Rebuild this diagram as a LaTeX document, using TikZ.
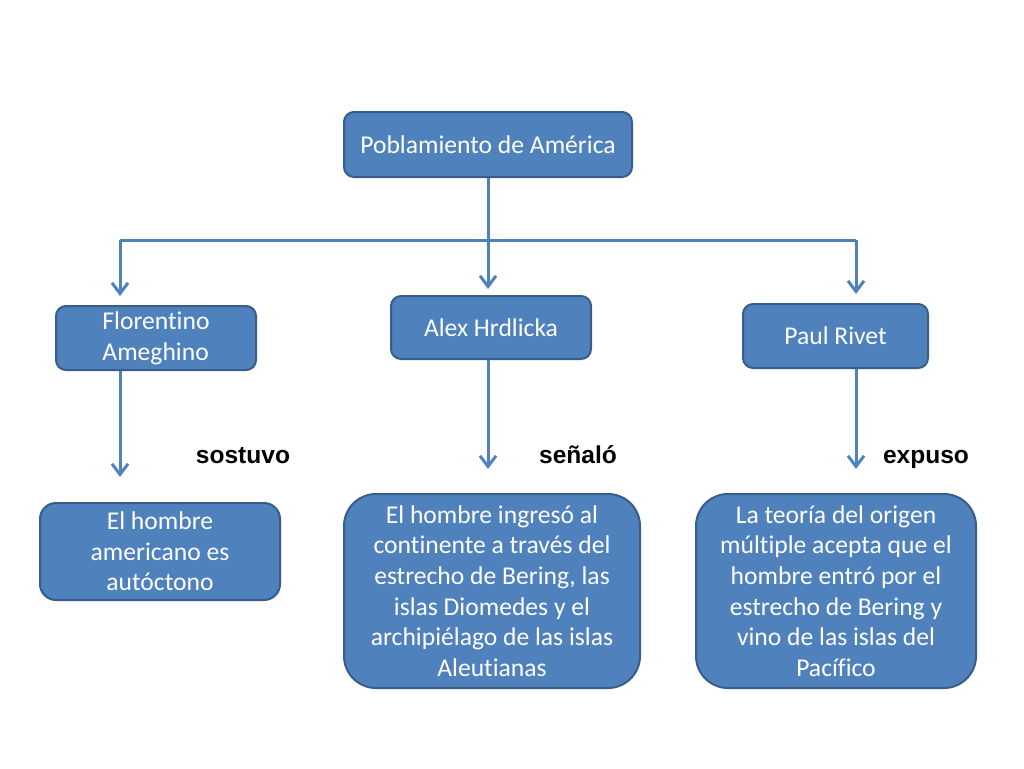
\documentclass[tikz,border=0pt]{standalone}
\usepackage{fontspec}
\setmainfont{Carlito}[Ligatures=NoCommon]
\newfontfamily\lblfont{Liberation Sans}
\usetikzlibrary{arrows.meta}
\definecolor{boxfill}{HTML}{4F81BD}
\definecolor{boxline}{HTML}{385D8A}

\begin{document}
\begin{tikzpicture}[x=0.75pt, y=-0.75pt,
  topic/.style={draw=boxline, fill=boxfill, line width=1.5pt, rounded corners=7.5pt, inner sep=0pt, text=white, align=center, font=\fontsize{19.2}{23}\selectfont},
  idea/.style={topic, rounded corners=12pt},
  bigidea/.style={topic, rounded corners=24pt},
  link/.style={draw=boxfill, line width=2.25pt, -{Straight Barb[length=8pt, width=12pt]}},
  verb/.style={anchor=base, font=\lblfont\bfseries\fontsize{18.4}{22}\selectfont}
]
\useasboundingbox (0,0) rectangle (1024,768);

% Top
\node[topic, minimum width=216pt, minimum height=48.75pt] (root) at (488,144.5) {Poblamiento de América};

% Authors
\node[topic, align=left, minimum width=150pt, minimum height=48pt] (flor) at (156,338) {Florentino\\Ameghino};
\node[topic, minimum width=150pt, minimum height=47.25pt] (alex) at (491,327.5) {Alex Hrdlicka};
\node[topic, minimum width=138.75pt, minimum height=48pt] (paul) at (835.5,336) {Paul Rivet};

% Ideas
\node[idea, minimum width=180pt, minimum height=72.75pt] (flortxt) at (160,551.5) {El hombre\\americano es\\autóctono};
\node[bigidea, minimum width=222pt, minimum height=145.5pt] (alextxt) at (492,591) {El hombre ingresó al\\continente a través del\\estrecho de Bering, las\\islas Diomedes y el\\archipiélago de las islas\\Aleutianas};
\node[bigidea, minimum width=210pt, minimum height=145.5pt] (paultxt) at (836,591) {La teoría del origen\\múltiple acepta que el\\hombre entró por el\\estrecho de Bering y\\vino de las islas del\\Pacífico};

% Verbs
\node[verb] (sost) at (243,463) {sostuvo};
\node[verb] (sena) at (578,463) {señaló};
\node[verb] (expu) at (926,463) {expuso};

% Branching
\coordinate (jl) at (120,240);
\coordinate (jr) at (856,240);
\draw[draw=boxfill, line width=2.25pt] (jl) -- (jr);
\draw[link, shorten >=6.75pt] (jl) -- (jl |- flor.north);
\draw[link, shorten >=6.75pt] (jr) -- (jr |- paul.north);
\draw[link, shorten >=4.5pt] (root.south) -- (root.south |- alex.north);

% Second level
\draw[link, shorten >=18.75pt] (jl |- flor.south) -- (jl |- flortxt.north);
\draw[link, shorten >=18pt] (root.south |- alex.south) -- (root.south |- alextxt.north);
\draw[link, shorten >=18pt] (jr |- paul.south) -- (jr |- paultxt.north);
\end{tikzpicture}
\end{document}
